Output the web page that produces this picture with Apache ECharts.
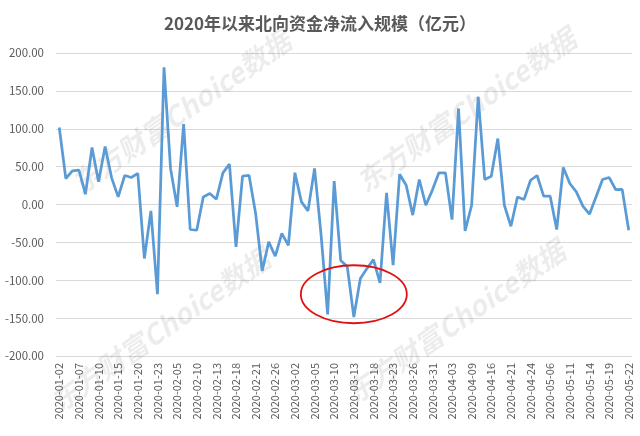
<!DOCTYPE html>
<html>
<head>
<meta charset="utf-8">
<script src="https://cdn.jsdelivr.net/npm/echarts@6/dist/echarts.min.js"></script>
<style>
  html, body { margin: 0; padding: 0; background: #fff; }
  #chart { width: 640px; height: 436px; }
</style>
</head>
<body>
<div id="chart"></div>
<script>
// 交易日（北向）
const dates = [
  '2020-01-02', '2020-01-03', '2020-01-06', '2020-01-07', '2020-01-08', '2020-01-09', '2020-01-10', '2020-01-13',
  '2020-01-14', '2020-01-15', '2020-01-16', '2020-01-17', '2020-01-20', '2020-01-21', '2020-01-22', '2020-01-23',
  '2020-02-03', '2020-02-04', '2020-02-05', '2020-02-06', '2020-02-07', '2020-02-10', '2020-02-11', '2020-02-12',
  '2020-02-13', '2020-02-14', '2020-02-17', '2020-02-18', '2020-02-19', '2020-02-20', '2020-02-21', '2020-02-24',
  '2020-02-25', '2020-02-26', '2020-02-27', '2020-02-28',
  '2020-03-02', '2020-03-03', '2020-03-04', '2020-03-05', '2020-03-06', '2020-03-09', '2020-03-10', '2020-03-11',
  '2020-03-12', '2020-03-13', '2020-03-16', '2020-03-17', '2020-03-18', '2020-03-19', '2020-03-20', '2020-03-23',
  '2020-03-24', '2020-03-25', '2020-03-26', '2020-03-27', '2020-03-30', '2020-03-31',
  '2020-04-01', '2020-04-02', '2020-04-03', '2020-04-07', '2020-04-08', '2020-04-09', '2020-04-14', '2020-04-15',
  '2020-04-16', '2020-04-17', '2020-04-20', '2020-04-21', '2020-04-22', '2020-04-23', '2020-04-24', '2020-04-27',
  '2020-04-28',
  '2020-05-06', '2020-05-07', '2020-05-08', '2020-05-11', '2020-05-12', '2020-05-13', '2020-05-14', '2020-05-15',
  '2020-05-18', '2020-05-19', '2020-05-20', '2020-05-21', '2020-05-22'
];

// 净流入（亿元）
const netInflow = [
  101.7, 34.3, 44.4, 45.3, 13.6, 75.3, 29.9, 76.6, 35.2, 10, 38.3, 35.7, 41, -71.3, -8.4, -118.5,
  181, 47.6, -3.1, 106, -33, -34, 10, 14.5, 7, 41.8, 53.2, -56, 37.4, 38.3, -12, -87.7,
  -49.4, -68.3, -38, -54,
  42, 3.5, -8.4, 47.6, -40, -145, 31, -74, -82, -148.5, -97.8, -84.6, -72.7, -103.5, 15.3, -80,
  40, 25.5, -14, 33, -1, 19,
  41.8, 41.8, -20, 126.8, -34.8, -1, 142, 33, 37.4, 87, -1, -28.7, 10, 6.6, 32, 38.3, 11,
  11, -33, 48.9, 27.7, 16.6, -2.2, -12.8, 10, 33, 35.7, 19.8, 20, -34
];

const yTicks = { min: -200, max: 200, step: 50 };

const chart = echarts.init(document.getElementById('chart'));
const font = '"Noto Sans CJK SC", "Noto Sans", sans-serif';
const gray = '#595959';

// 水印
function mark(x, y) {
  return {
    type: 'text', x: x, y: y, rotation: Math.PI * 35 / 180, z: 0, silent: true,
    style: {
      text: '东方财富Choice数据', fill: 'rgba(0,0,0,0.075)',
      font: 'italic bold 28px ' + font, align: 'center', verticalAlign: 'middle'
    }
  };
}

chart.setOption({
  animation: false,
  title: {
    text: '2020年以来北向资金净流入规模（亿元）',
    left: 'center', top: 10,
    textStyle: { fontFamily: font, fontSize: 17, fontWeight: 'bold', color: gray }
  },
  grid: { left: 56, right: 8, top: 53, bottom: 80 },
  xAxis: {
    type: 'category',
    data: dates,
    boundaryGap: true,
    axisLine: { lineStyle: { color: '#d9d9d9' } },
    axisTick: { show: false },
    axisLabel: { interval: 2, rotate: 90, margin: 7, fontFamily: font, fontSize: 11, color: gray }
  },
  yAxis: {
    type: 'value',
    min: yTicks.min, max: yTicks.max, interval: yTicks.step,
    axisLine: { show: false },
    axisTick: { show: false },
    splitLine: { lineStyle: { color: '#d9d9d9' } },
    axisLabel: {
      margin: 12, fontFamily: font, fontSize: 11.5, color: gray,
      formatter: v => v.toFixed(2)
    }
  },
  series: [{
    type: 'line',
    data: netInflow,
    showSymbol: false,
    lineStyle: { color: '#5b9bd5', width: 2.75 },
    z: 3
  }]
});

// 红圈标注（按数据坐标定位）
const c = chart.convertToPixel({ gridIndex: 0 }, [44.8, -118.5]);
chart.setOption({
  graphic: [
    mark(181, 112), mark(466, 110), mark(160, 330), mark(455, 322),
    {
      type: 'ellipse', z: 10, silent: true,
      shape: { cx: c[0], cy: c[1], rx: 53, ry: 29 },
      style: { fill: 'none', stroke: '#e01010', lineWidth: 1.8 }
    }
  ]
});
</script>
</body>
</html>
